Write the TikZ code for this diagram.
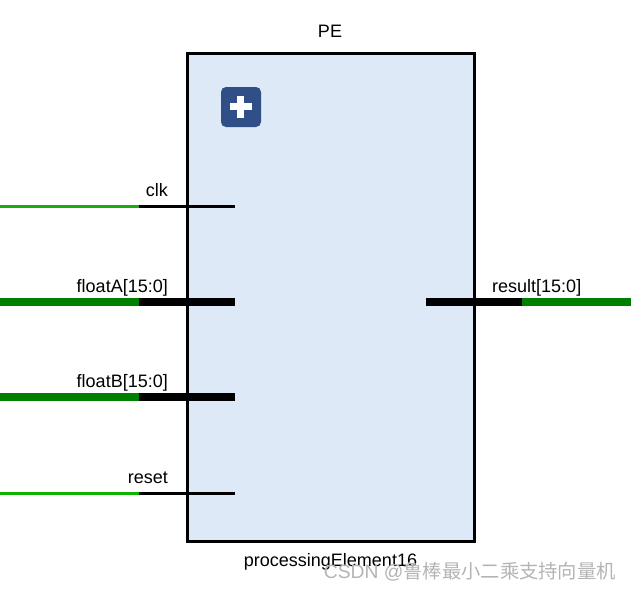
\documentclass[tikz,border=0pt]{standalone}
\usepackage{fontspec}
\setmainfont{Liberation Sans}
\newfontfamily\cjkfont{Noto Sans CJK SC}
\definecolor{blockfill}{HTML}{DEE9F8}
\definecolor{iconblue}{HTML}{304F87}
\definecolor{busgreen}{HTML}{008000}
\definecolor{clkgreen}{HTML}{18AC0C}
\definecolor{rstgreen}{HTML}{0DB300}
\definecolor{markgray}{HTML}{B4B4B4}
\begin{document}
\begin{tikzpicture}[x=1pt,y=-1pt,
  lbl/.style={font=\fontsize{18}{20}\selectfont,text=black,inner sep=0pt},
  blockbox/.style={draw=black,line width=3pt,fill=blockfill,inner sep=0pt,minimum width=287pt,minimum height=488pt},
  iconbox/.style={fill=iconblue,rounded corners=5pt,inner sep=0pt,minimum size=40pt},
  thinwire/.style={line width=3pt},
  buswire/.style={line width=8pt},
  pinwire/.style={draw=black}]
\useasboundingbox (0,0) rectangle (631,590);
\node[blockbox] (pe) at (330.5,297.5) {};
\node[iconbox] (icon) at (241,107) {};
\fill[white] (237.2,95.5) rectangle (243.8,117.5);
\fill[white] (229.5,103.2) rectangle (251.5,109.8);
\node[lbl,anchor=base] (title) at (330,37) {PE};
\node[lbl,anchor=base] (sub) at (330.5,566) {processingElement16};
% left ports
\coordinate (clkA) at (0,206.5);   \coordinate (clkB) at (139,206.5);   \coordinate (clkC) at (235,206.5);
\coordinate (faA) at (0,301.5);    \coordinate (faB) at (139,301.5);    \coordinate (faC) at (235,301.5);
\coordinate (fbA) at (0,397);      \coordinate (fbB) at (139,397);      \coordinate (fbC) at (235,397);
\coordinate (rsA) at (0,493);      \coordinate (rsB) at (139,493);      \coordinate (rsC) at (235,493);
\coordinate (resA) at (426,301.5); \coordinate (resB) at (522,301.5);   \coordinate (resC) at (631,301.5);
\draw[thinwire,clkgreen] (clkA) -- (clkB);
\draw[thinwire,pinwire] (clkB) -- (clkC);
\draw[buswire,busgreen] (faA) -- (faB);
\draw[buswire,pinwire] (faB) -- (faC);
\draw[buswire,busgreen] (fbA) -- (fbB);
\draw[buswire,pinwire] (fbB) -- (fbC);
\draw[thinwire,rstgreen] (rsA) -- (rsB);
\draw[thinwire,pinwire] (rsB) -- (rsC);
\draw[buswire,pinwire] (resA) -- (resB);
\draw[buswire,busgreen] (resB) -- (resC);
\node[lbl,anchor=base east] (clk) at (168,196) {clk};
\node[lbl,anchor=base east] (fa) at (168,292) {floatA[15:0]};
\node[lbl,anchor=base east] (fb) at (168,387) {floatB[15:0]};
\node[lbl,anchor=base east] (rs) at (168,483) {reset};
\node[lbl,anchor=base west] (res) at (492,292) {result[15:0]};
\node[inner sep=0pt,anchor=base east,text=markgray,font=\fontsize{19.3}{21}\selectfont] (wm) at (616,578) {CSDN @{\cjkfont 鲁棒最小二乘支持向量机}};
\end{tikzpicture}
\end{document}
